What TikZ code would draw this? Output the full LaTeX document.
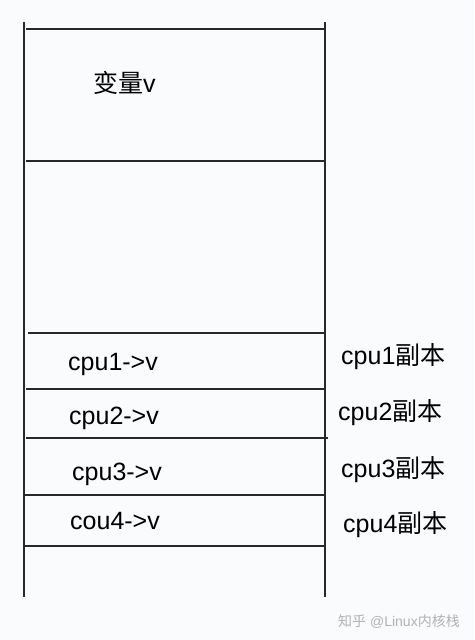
\documentclass[tikz,border=0pt]{standalone}
\usepackage{fontspec}
\setmainfont{Liberation Sans}
\newfontfamily\cjk{Noto Sans CJK SC}
\definecolor{paper}{RGB}{250,251,253}
\definecolor{ink}{RGB}{40,40,40}
\tikzset {
  mem path/.style = {
    draw = ink,
    line width = 1.3pt
  },
  % text inside one slot of the memory column
  slot text/.style = {
    anchor = base west,
    inner sep = 0,
    text = black,
    font = \fontsize{25}{30}\selectfont
  },
  % per-cpu copy, right of the column
  copy text/.style = {
    slot text
  },
  site mark/.style = {
    anchor = base west,
    inner sep = 0,
    text = black!30,
    font = \fontsize{14}{16}\selectfont
  }
}

\begin{document}
\begin{tikzpicture}[x = 1pt, y = -1pt]
    \fill[paper] (0,0) rectangle (474,640);
    \useasboundingbox (0,0) rectangle (474,640);

    % column walls
    \coordinate (wall-left-top) at (24,22);
    \coordinate (wall-left-bottom) at (24,597);
    \coordinate (wall-right-top) at (325,22);
    \coordinate (wall-right-bottom) at (325,597);

    % slot borders
    \coordinate (top-l) at (26,29);   \coordinate (top-r) at (326,29);
    \coordinate (var-l) at (26,161);  \coordinate (var-r) at (326,161);
    \coordinate (cpu1-l) at (28,333); \coordinate (cpu1-r) at (325,333);
    \coordinate (cpu2-l) at (26,389); \coordinate (cpu2-r) at (325,389);
    \coordinate (cpu3-l) at (26,438); \coordinate (cpu3-r) at (328,438);
    \coordinate (cpu4-l) at (24,495); \coordinate (cpu4-r) at (325,495);
    \coordinate (end-l) at (24,546);  \coordinate (end-r) at (325,546);

    \draw[mem path] (wall-left-top) -- (wall-left-bottom);
    \draw[mem path] (wall-right-top) -- (wall-right-bottom);
    \draw[mem path] (top-l) -- (top-r);
    \draw[mem path] (var-l) -- (var-r);
    \draw[mem path] (cpu1-l) -- (cpu1-r);
    \draw[mem path] (cpu2-l) -- (cpu2-r);
    \draw[mem path] (cpu3-l) -- (cpu3-r);
    \draw[mem path] (cpu4-l) -- (cpu4-r);
    \draw[mem path] (end-l) -- (end-r);

    \node[slot text] (var) at (93,92) {{\cjk 变量}v};
    \node[slot text] (cpu1-v) at (68,370) {cpu1->v};
    \node[slot text] (cpu2-v) at (69,424) {cpu2->v};
    \node[slot text] (cpu3-v) at (72,480) {cpu3->v};
    \node[slot text] (cpu4-v) at (70,529) {cou4->v};

    \node[copy text] (cpu1-copy) at (341,364) {cpu1{\cjk 副本}};
    \node[copy text] (cpu2-copy) at (338,420) {cpu2{\cjk 副本}};
    \node[copy text] (cpu3-copy) at (341,477) {cpu3{\cjk 副本}};
    \node[copy text] (cpu4-copy) at (343,532) {cpu4{\cjk 副本}};

    \node[site mark] (site) at (338,626) {{\cjk 知乎} @Linux{\cjk 内核栈}};
  \end{tikzpicture}
\end{document}
